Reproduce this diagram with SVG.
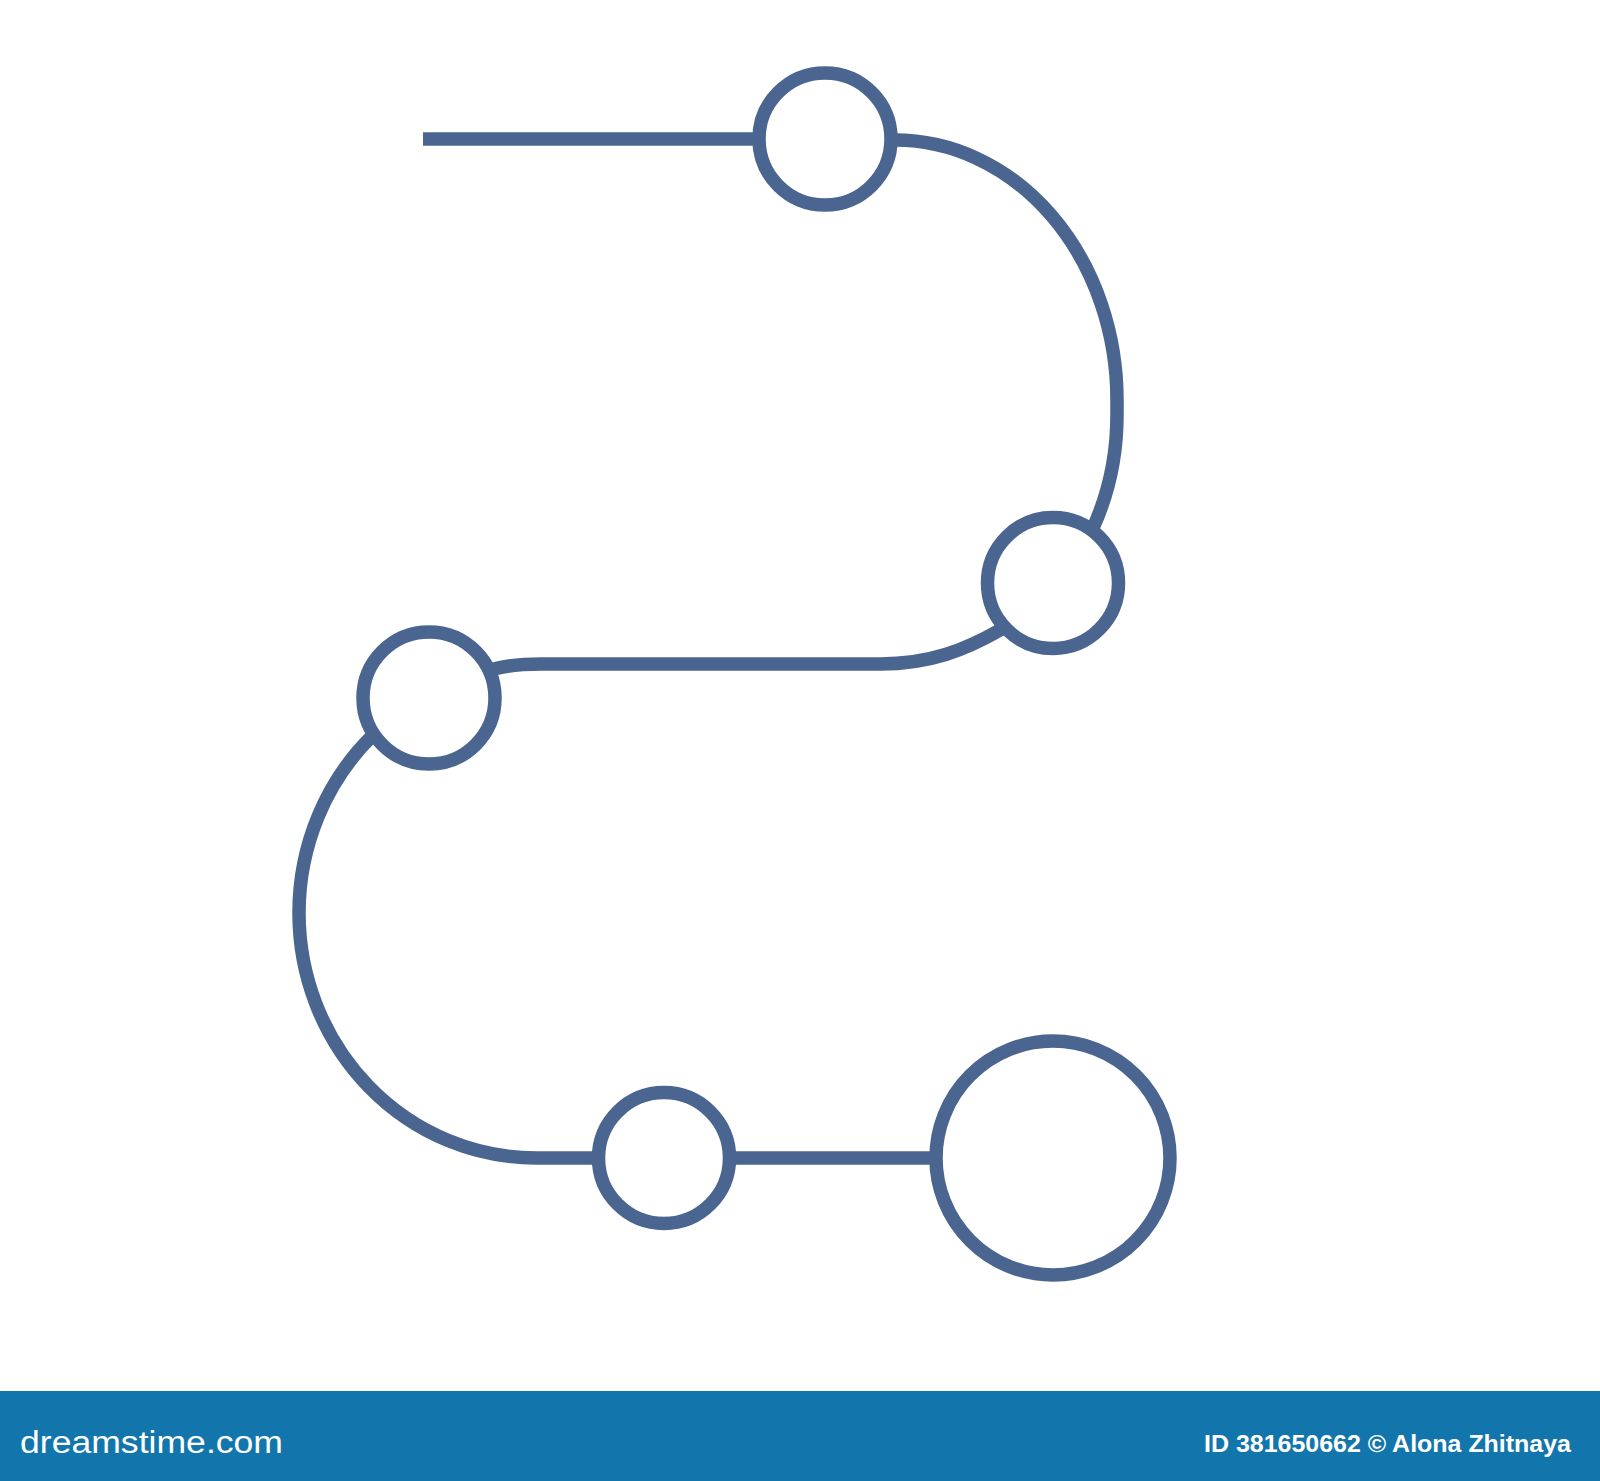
<svg xmlns="http://www.w3.org/2000/svg" width="1600" height="1481" viewBox="0 0 1600 1481">
  <style>
    .conn { fill: none; stroke: #4a6590; stroke-width: 13.5; stroke-linecap: butt; stroke-linejoin: round; }
    .node { fill: #ffffff; stroke: #4a6590; stroke-width: 13.5; }
    .banner-text { fill: #ffffff; font-family: "Liberation Sans", Arial, sans-serif; }
  </style>
  <rect x="0" y="0" width="1600" height="1481" fill="#ffffff"/>
  <g id="connectors">
    <path class="conn" d="M 423 139 H 770"/>
    <path class="conn" d="M 880 140 L 895 140 A 222 260 0 0 1 1117 400 L 1117 415 C 1117 460 1108 495 1093 528 L 1080 550"/>
    <path class="conn" d="M 1010 624 L 1000 630 C 965 650 930 664 880 664 L 541 664 Q 505 664 485 672"/>
    <path class="conn" d="M 385 727 L 373 735 A 237 245 0 0 0 299 913 A 237 245 0 0 0 536 1158 L 610 1158"/>
    <path class="conn" d="M 720 1158 H 945"/>
  </g>
  <g id="node1"><circle class="node" cx="825" cy="139" r="66"/></g>
  <g id="node2"><circle class="node" cx="1053" cy="583" r="65.5"/></g>
  <g id="node3"><circle class="node" cx="429" cy="698" r="66"/></g>
  <g id="node4"><circle class="node" cx="664" cy="1158" r="65.5"/></g>
  <g id="node5"><circle class="node" cx="1053" cy="1158" r="117"/></g>
  <g id="banner">
    <rect x="0" y="1391" width="1600" height="90" fill="#1276ad"/>
    <text class="banner-text" x="20" y="1453" font-size="31" textLength="263" lengthAdjust="spacingAndGlyphs">dreamstime.com</text>
    <text class="banner-text" x="1204" y="1452" font-size="23" font-weight="bold" textLength="367" lengthAdjust="spacingAndGlyphs">ID 381650662 © Alona Zhitnaya</text>
  </g>
</svg>
